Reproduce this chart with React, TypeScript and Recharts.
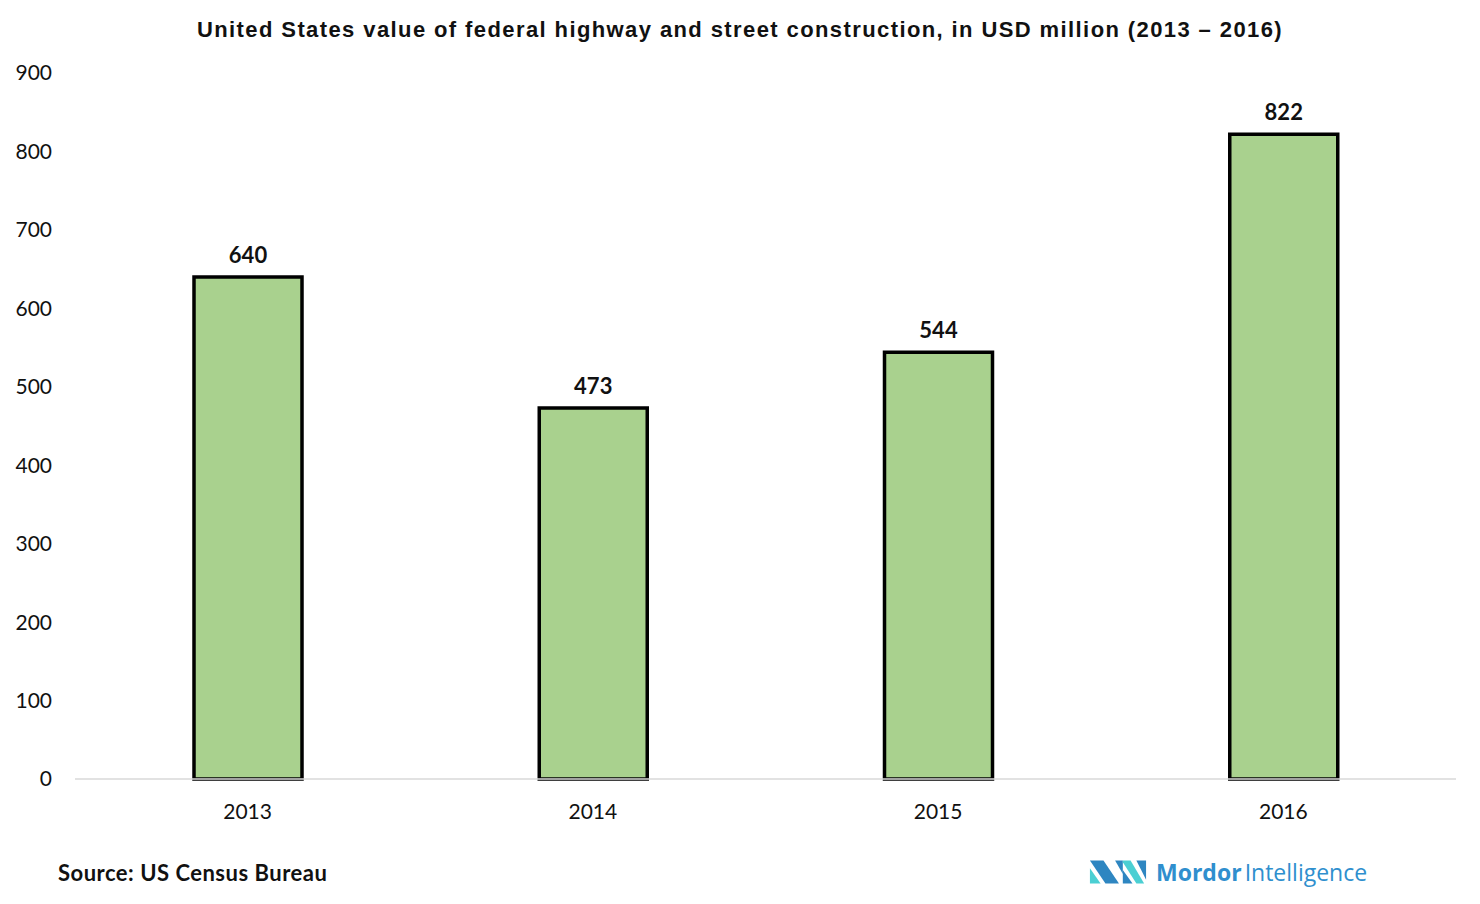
import { BarChart, Bar, XAxis, YAxis, LabelList } from "recharts";

const years = ["2013", "2014", "2015", "2016"];
const values = [640, 473, 544, 822];
const yTicks = [0, 100, 200, 300, 400, 500, 600, 700, 800, 900];

const data = years.map((year, i) => ({ year, value: values[i] }));

const tickFont = { fontFamily: "Lato, 'Open Sans', sans-serif", fontSize: 21, fill: "#111" };

function Logo() {
  return (
    <div style={{ position: "absolute", left: 1080, top: 848, display: "flex", alignItems: "center" }}>
      <svg width="60" height="32" viewBox="0 0 62 32">
        <polygon points="2,4 16,4 32,28 18,28" fill="#2e86c1" />
        <polygon points="2,12 13,28 2,28" fill="#4bcfd3" />
        <polygon points="28,4 36,4 36,18" fill="#2e86c1" />
        <polygon points="36,4 44,4 58,28 50,28 36,6" fill="#4bcfd3" />
        <polygon points="50,4 60,4 60,24" fill="#2e86c1" />
        <polygon points="36,14 46,28 36,28" fill="#2e86c1" />
      </svg>
      <span style={{ fontFamily: "'Open Sans', sans-serif", fontSize: 23, color: "#2f8fce", marginLeft: 8 }}>
        <b>Mordor</b>
        <span style={{ marginLeft: 3 }}>Intelligence</span>
      </span>
    </div>
  );
}

export default function App() {
  return (
    <div style={{ position: "relative", width: 1464, height: 888 }}>
      <div
        style={{
          position: "absolute",
          left: 0,
          top: 9,
          width: 1464,
          textAlign: "center",
          fontFamily: "'Liberation Sans', Arial, sans-serif",
          fontWeight: "bold",
          fontSize: 22,
          letterSpacing: 1.4,
          color: "#111",
        }}
      >
        United States value of federal highway and street construction, in USD million (2013 – 2016)
      </div>
      <BarChart
        width={1464}
        height={888}
        data={data}
        margin={{ top: 65, right: 16, left: 0, bottom: 87 }}
      >
        <XAxis
          dataKey="year"
          tick={tickFont}
          tickLine={false}
          axisLine={{ stroke: "#d9d9d9", strokeWidth: 1.5 }}
          tickMargin={19}
        />
        <YAxis
          domain={[0, 900]}
          ticks={yTicks}
          width={67}
          tick={tickFont}
          tickLine={false}
          axisLine={false}
          tickSize={0}
          tickMargin={23}
        />
        <Bar dataKey="value" fill="#a9d18e" stroke="#000" strokeWidth={3.5} barSize={108} isAnimationActive={false}>
          <LabelList
            dataKey="value"
            position="top"
            offset={14}
            style={{ fontFamily: "Lato, 'Open Sans', sans-serif", fontSize: 22, fontWeight: "bold", fill: "#111" }}
          />
        </Bar>
      </BarChart>
      <div
        style={{
          position: "absolute",
          left: 50,
          top: 851,
          fontFamily: "Lato, 'Open Sans', sans-serif",
          fontWeight: "bold",
          fontSize: 22,
          letterSpacing: 0.5,
          color: "#111",
        }}
      >
        Source: US Census Bureau
      </div>
      <Logo />
    </div>
  );
}
